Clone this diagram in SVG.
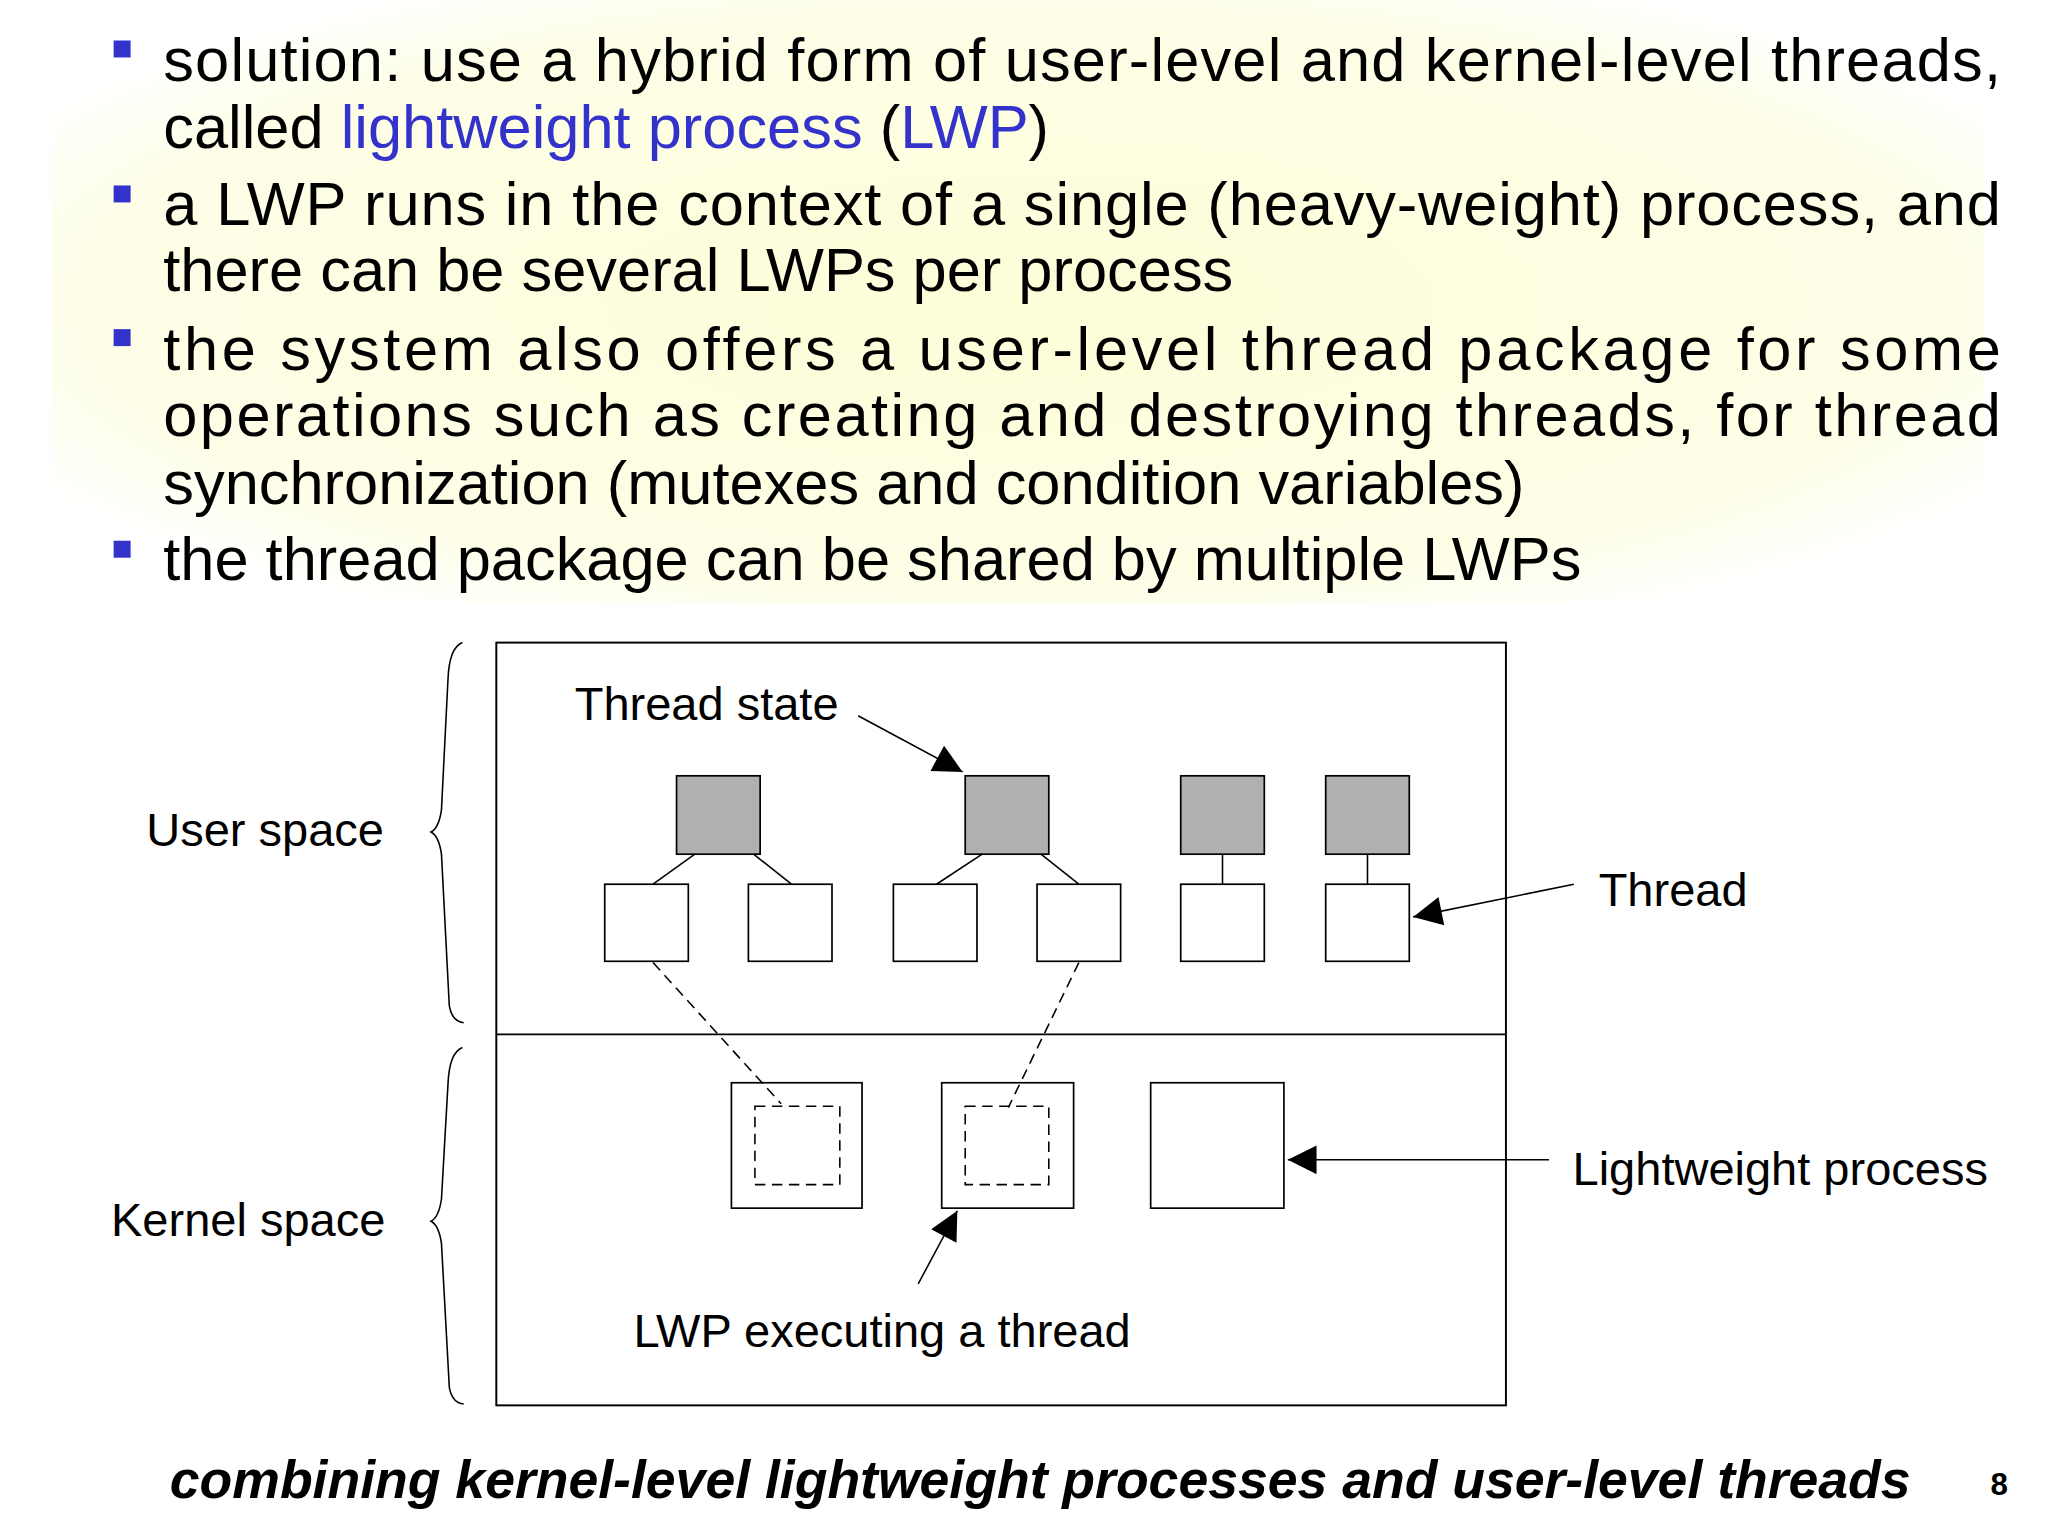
<svg xmlns="http://www.w3.org/2000/svg" width="2048" height="1536" viewBox="0 0 2048 1536">
<defs>
<radialGradient id="bg" cx="0.5" cy="0.5" r="0.6">
<stop offset="0" stop-color="#fdfdd8"/><stop offset="0.8" stop-color="#fefee8"/><stop offset="1" stop-color="#ffffff"/>
</radialGradient>
<marker id="ah" viewBox="0 0 10 10" refX="10" refY="5" markerWidth="28" markerHeight="22" markerUnits="userSpaceOnUse" orient="auto"><path d="M0,0 L10,5 L0,10 Z" fill="#000"/></marker>
<style>
.b{font-family:"Liberation Sans",Arial,sans-serif;font-size:47px;fill:#000}
.bl{fill:#3333cc}
.d{font-family:"Liberation Sans",Arial,sans-serif;font-size:36px;fill:#000}
.box{fill:#fff;stroke:#000;stroke-width:1.3}
.g{fill:#b0b0b0;stroke:#000;stroke-width:1.3}
.ln{stroke:#000;stroke-width:1.2;fill:none}
.ds{stroke:#000;stroke-width:1.2;fill:none;stroke-dasharray:8,5}
</style>
</defs>
<rect width="2048" height="1536" fill="#fff"/>
<g transform="scale(1.3061)">
<rect x="40" y="0" width="1480" height="462" fill="url(#bg)"/>
<g id="text">
<g fill="#3333cc"><rect x="87" y="31" width="13" height="13"/><rect x="87" y="142" width="13" height="13"/><rect x="87" y="252" width="13" height="13"/><rect x="87" y="414" width="13" height="13"/></g>
<text class="b" x="125" y="62" textLength="1407" lengthAdjust="spacing">solution: use a hybrid form of user-level and kernel-level threads,</text>
<text class="b" x="125" y="113">called <tspan class="bl">lightweight process</tspan> (<tspan class="bl">LWP</tspan>)</text>
<text class="b" x="125" y="172" textLength="1407" lengthAdjust="spacing">a LWP runs in the context of a single (heavy-weight) process, and</text>
<text class="b" x="125" y="223">there can be several LWPs per process</text>
<text class="b" x="125" y="283" textLength="1407" lengthAdjust="spacing">the system also offers a user-level thread package for some</text>
<text class="b" x="125" y="334" textLength="1407" lengthAdjust="spacing">operations such as creating and destroying threads, for thread</text>
<text class="b" x="125" y="386">synchronization (mutexes and condition variables)</text>
<text class="b" x="125" y="444">the thread package can be shared by multiple LWPs</text>
</g>
<g id="frame">
<rect x="380" y="492" width="773" height="584" fill="#fff" stroke="#000" stroke-width="1.5"/>
<line x1="380" y1="792" x2="1153" y2="792" stroke="#000" stroke-width="1.3"/>
<path class="ln" d="M354,492 Q344,496 343,520 L338,620 Q336,634 330,637 Q336,640 338,654 L344,770 Q346,782 355,783"/>
<path class="ln" d="M354,802 Q344,806 343,830 L338,918 Q336,932 330,935 Q336,938 338,952 L344,1062 Q346,1074 355,1075"/>
<text class="d" x="112" y="648">User space</text>
<text class="d" x="85" y="946">Kernel space</text>
</g>
<g id="threadstates">
<rect class="g" x="518" y="594" width="64" height="60"/>
<rect class="g" x="739" y="594" width="64" height="60"/>
<rect class="g" x="904" y="594" width="64" height="60"/>
<rect class="g" x="1015" y="594" width="64" height="60"/>
</g>
<g id="threads">
<rect class="box" x="463" y="677" width="64" height="59"/>
<rect class="box" x="573" y="677" width="64" height="59"/>
<rect class="box" x="684" y="677" width="64" height="59"/>
<rect class="box" x="794" y="677" width="64" height="59"/>
<rect class="box" x="904" y="677" width="64" height="59"/>
<rect class="box" x="1015" y="677" width="64" height="59"/>
</g>
<g id="lwps">
<rect class="box" x="560" y="829" width="100" height="96"/>
<rect class="box" x="721" y="829" width="101" height="96"/>
<rect class="box" x="881" y="829" width="102" height="96"/>
<rect class="ds" x="578" y="847" width="65" height="60"/>
<rect class="ds" x="739" y="847" width="64" height="60"/>
</g>
<g id="connectors">
<line class="ln" x1="532" y1="654" x2="500" y2="677"/>
<line class="ln" x1="577" y1="654" x2="606" y2="677"/>
<line class="ln" x1="752" y1="654" x2="717" y2="677"/>
<line class="ln" x1="797" y1="654" x2="826" y2="677"/>
<line class="ln" x1="936" y1="654" x2="936" y2="677"/>
<line class="ln" x1="1047" y1="654" x2="1047" y2="677"/>
<line class="ds" x1="500" y1="737" x2="598" y2="845"/>
<line class="ds" x1="826" y1="737" x2="772" y2="848"/>
<line class="ln" x1="657" y1="548" x2="737" y2="591" marker-end="url(#ah)"/>
<line class="ln" x1="1205" y1="677" x2="1082" y2="702" marker-end="url(#ah)"/>
<line class="ln" x1="1186" y1="888" x2="986" y2="888" marker-end="url(#ah)"/>
<line class="ln" x1="703" y1="983" x2="733" y2="927" marker-end="url(#ah)"/>
</g>
<g id="labels">
<text class="d" x="440" y="551">Thread state</text>
<text class="d" x="1224" y="694">Thread</text>
<text class="d" x="1204" y="907">Lightweight process</text>
<text class="d" x="485" y="1031">LWP executing a thread</text>
</g>
<text x="130" y="1147" font-family="Liberation Sans,Arial,sans-serif" font-size="41" font-weight="bold" font-style="italic">combining kernel-level lightweight processes and user-level threads</text>
<text x="1524" y="1145" font-family="Liberation Sans,Arial,sans-serif" font-size="24" font-weight="bold">8</text>
</g>
</svg>
